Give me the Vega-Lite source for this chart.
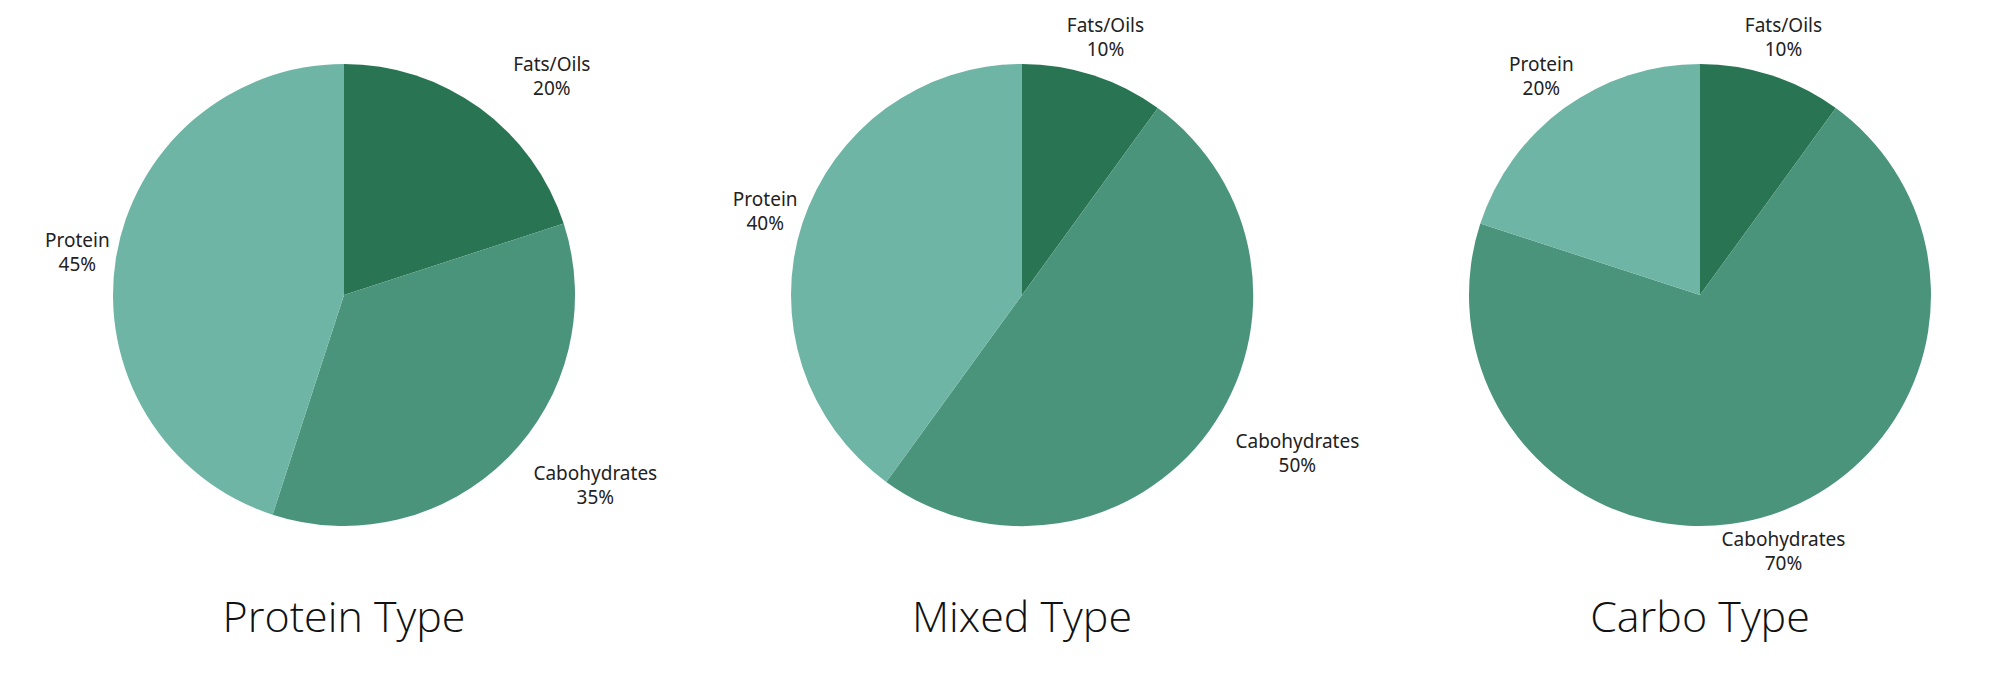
{
  "$schema": "https://vega.github.io/schema/vega-lite/v6.json",
  "padding": {"left": 44, "top": 0, "right": 0, "bottom": 30},
  "background": "white",
  "bounds": "flush",
  "data": {"values": [
    {"type": "Protein Type", "category": "Fats/Oils", "share": 0.20},
    {"type": "Protein Type", "category": "Cabohydrates", "share": 0.35},
    {"type": "Protein Type", "category": "Protein", "share": 0.45},
    {"type": "Mixed Type", "category": "Fats/Oils", "share": 0.10},
    {"type": "Mixed Type", "category": "Cabohydrates", "share": 0.50},
    {"type": "Mixed Type", "category": "Protein", "share": 0.40},
    {"type": "Carbo Type", "category": "Fats/Oils", "share": 0.10},
    {"type": "Carbo Type", "category": "Cabohydrates", "share": 0.70},
    {"type": "Carbo Type", "category": "Protein", "share": 0.20}
  ]},
  "transform": [
    {"calculate": "indexof(['Fats/Oils', 'Cabohydrates', 'Protein'], datum.category)", "as": "slice_order"}
  ],
  "facet": {"column": {"field": "type", "type": "nominal", "sort": ["Protein Type", "Mixed Type", "Carbo Type"],
    "header": {"title": null, "labelOrient": "bottom", "labelFont": "Open Sans", "labelFontWeight": 300, "labelFontSize": 43, "labelColor": "#111", "labelPadding": 42, "labelBaseline": "alphabetic"}}},
  "spacing": {"column": 90},
  "spec": {
    "width": 588,
    "height": 590,
    "encoding": {
      "theta": {"field": "share", "type": "quantitative", "stack": true},
      "order": {"field": "slice_order", "type": "quantitative", "sort": "ascending"},
      "color": {"field": "category", "type": "nominal",
        "scale": {"domain": ["Fats/Oils", "Cabohydrates", "Protein"], "range": ["#287453", "#4a947b", "#6fb5a6"]}, "legend": null}
    },
    "layer": [
      {"mark": {"type": "arc", "outerRadius": 231}},
      {"mark": {"type": "text", "radius": 270, "dy": -12, "font": "Noto Sans", "fontSize": 19, "fill": "#222",
        "dx": {"expr": "sqrt(pow(max(0, abs(270*sin(PI*(datum.share_start+datum.share_end))) - 5.1*length(datum.category)), 2) + pow(max(0, abs(270*cos(PI*(datum.share_start+datum.share_end))) - 24), 2)) < 227 ? (sin(PI*(datum.share_start+datum.share_end)) < 0 ? -1 : 1) * max(0, sqrt(64009 - pow(max(0, abs(270*cos(PI*(datum.share_start+datum.share_end))) - 24), 2)) + 5.1*length(datum.category) - abs(270*sin(PI*(datum.share_start+datum.share_end)))) : 0"}},
        "encoding": {"text": {"field": "category"}}},
      {"mark": {"type": "text", "radius": 270, "dy": 12, "font": "Noto Sans", "fontSize": 19, "fill": "#222",
        "dx": {"expr": "sqrt(pow(max(0, abs(270*sin(PI*(datum.share_start+datum.share_end))) - 5.1*length(datum.category)), 2) + pow(max(0, abs(270*cos(PI*(datum.share_start+datum.share_end))) - 24), 2)) < 227 ? (sin(PI*(datum.share_start+datum.share_end)) < 0 ? -1 : 1) * max(0, sqrt(64009 - pow(max(0, abs(270*cos(PI*(datum.share_start+datum.share_end))) - 24), 2)) + 5.1*length(datum.category) - abs(270*sin(PI*(datum.share_start+datum.share_end)))) : 0"}},
        "encoding": {"text": {"field": "share", "format": ".0%"}}}
    ]
  },
  "config": {"view": {"stroke": null}}
}
